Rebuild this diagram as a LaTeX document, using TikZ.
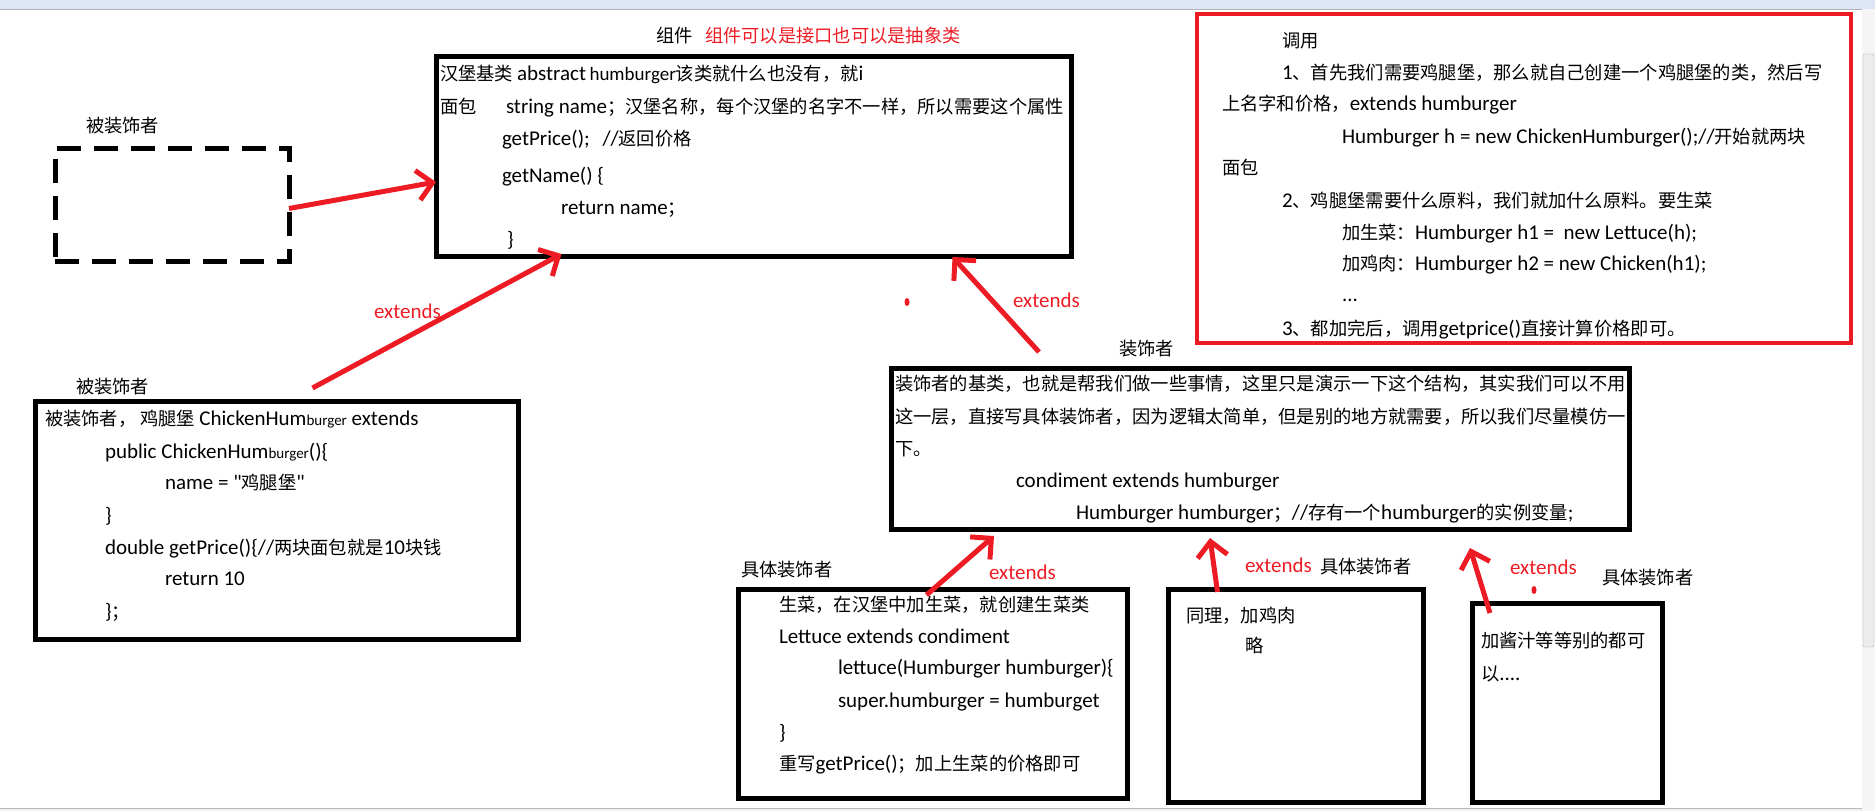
\documentclass[tikz,border=0pt]{standalone}
\usepackage{fontspec}
\setmainfont{Carlito}
\newfontfamily\latinfont{Carlito}
\newfontfamily\cjkfont{Noto Sans CJK SC}[Scale=0.87]
\usetikzlibrary{arrows.meta}
\usepackage{xcolor}

\definecolor{paintred}{RGB}{237,28,36}
\definecolor{toolbar}{RGB}{220,230,244}

% Chinese characters switch to the CJK font
\newcount\cjkchar
\cjkchar="4E00
\loop \XeTeXcharclass\cjkchar=1 \advance\cjkchar by 1 \ifnum\cjkchar<"A000 \repeat
\cjkchar="3000
\loop \XeTeXcharclass\cjkchar=1 \advance\cjkchar by 1 \ifnum\cjkchar<"3040 \repeat
\cjkchar="FF00
\loop \XeTeXcharclass\cjkchar=1 \advance\cjkchar by 1 \ifnum\cjkchar<"FFF0 \repeat
\XeTeXinterchartoks 0 1 = {\cjkfont}
\XeTeXinterchartoks 1 0 = {\latinfont}
\XeTeXinterchartoks 4095 1 = {\cjkfont}
\XeTeXinterchartoks 4095 0 = {\latinfont}
\XeTeXinterchartokenstate=1

\begin{document}
\begin{tikzpicture}[x=1pt, y=-1pt,
  every node/.style={font=\fontsize{21}{32}\selectfont, inner sep=0pt, outer sep=0pt},
  txt/.style={anchor=base west},
  redtxt/.style={anchor=base west, text=paintred},
  box/.style={draw, line width=5pt, anchor=north west},
  ext/.style={paintred, line width=5pt, -{Straight Barb[length=15pt,width=30pt]}}
]
\useasboundingbox (0,0) rectangle (1875,811);

% window frame
{
\fill[toolbar] (0,0) rectangle (1875,9);
\draw[gray!60, line width=1pt] (0,9) -- (1875,9);
\fill[gray!8] (1862,9) rectangle (1875,811);
\draw[gray!60, fill=gray!15, rounded corners=2pt] (1863,54) rectangle (1874,647);
\fill[gray!12] (0,808) rectangle (1862,811);
\draw[gray!55, line width=1pt] (0,808) -- (1862,808);
}

% boxes
\node[box, minimum width=635pt, minimum height=200pt] (comp) at (436,56) {};
\node[box, dash pattern=on 24pt off 13pt, minimum width=234pt, minimum height=113pt] (target) at (55,148) {};
\node[box, minimum width=483pt, minimum height=238pt] (chicken) at (35,401) {};
\node[box, minimum width=738pt, minimum height=161pt] (condiment) at (891,368) {};
\node[box, minimum width=389pt, minimum height=209pt] (lettuce) at (738,589) {};
\node[box, minimum width=255pt, minimum height=213pt] (chickenmeat) at (1168,589) {};
\node[box, minimum width=190pt, minimum height=199pt] (sauce) at (1472,603) {};
\node[box, draw=paintred, line width=4.5pt, minimum width=654pt, minimum height=329pt] (usage) at (1197,14) {};

% component
{
\node[txt] (comptitle) at (656,42) {组件};
\node[redtxt] (compnote) at (705,42) {组件可以是接口也可以是抽象类};
\node[txt] (c1) at (440,80) {汉堡基类 abstract\,{\fontsize{19}{19}\selectfont humburger}该类就什么也没有，就i};
\node[txt] (c2a) at (440,113) {面包};
\node[txt] (c2b) at (506,113) {string name；汉堡名称，每个汉堡的名字不一样，所以需要这个属性};
\node[txt] (c3) at (502,145) {getPrice(); \hspace{8pt}//返回价格};
\node[txt] (c4) at (502,182) {getName() \{};
\node[txt] (c5) at (561,214) {return name；};
\node[txt] (c6) at (507,246) {\}};
}

% decorated
{
\node[txt] (targettitle) at (86,132) {被装饰者};
\node[txt] (chickentitle) at (76,393) {被装饰者};
\node[txt] (k1) at (45,425) {被装饰者， 鸡腿堡 ChickenHum{\fontsize{15}{15}\selectfont burger} extends};
\node[txt] (k2) at (105,458) {public ChickenHum{\fontsize{15}{15}\selectfont burger}()\{};
\node[txt] (k3) at (165,489) {name = "鸡腿堡"};
\node[txt] (k4) at (105,522) {\}};
\node[txt] (k5) at (105,554) {double getPrice()\{//两块面包就是10块钱};
\node[txt] (k6) at (165,585) {return 10};
\node[txt] (k7) at (105,618) {\}；};
}

% decorator
{
\node[txt] (condimenttitle) at (1119,355) {装饰者};
\node[txt] (d1) at (895,390) {装饰者的基类，也就是帮我们做一些事情，这里只是演示一下这个结构，其实我们可以不用};
\node[txt] (d2) at (895,423) {这一层，直接写具体装饰者，因为逻辑太简单，但是别的地方就需要，所以我们尽量模仿一};
\node[txt] (d3) at (895,455) {下。};
\node[txt] (d4) at (1016,487) {condiment extends humburger};
\node[txt] (d5) at (1076,519) {Humburger humburger；//存有一个humburger的实例变量;};
}

% concrete decorators
{
\node[txt] (lettucetitle) at (741,576) {具体装饰者};
\node[txt] (l1) at (779,611) {生菜，在汉堡中加生菜，就创建生菜类};
\node[txt] (l2) at (779,643) {Lettuce extends condiment};
\node[txt] (l3) at (838,674) {lettuce(Humburger humburger)\{};
\node[txt] (l4) at (838,707) {super.humburger = humburget};
\node[txt] (l5) at (779,739) {\}};
\node[txt] (l6) at (779,770) {重写getPrice()；加上生菜的价格即可};

\node[txt] (meattitle) at (1320,573) {具体装饰者};
\node[txt] (s1) at (1186,622) {同理，加鸡肉};
\node[txt] (s2) at (1245,652) {略};

\node[txt] (saucetitle) at (1602,584) {具体装饰者};
\node[txt] (t1) at (1481,647) {加酱汁等等别的都可};
\node[txt] (t2) at (1481,680) {以....};
}

% usage
{
\node[txt] (r1) at (1282,47) {调用};
\node[txt] (r2) at (1282,79) {1、首先我们需要鸡腿堡，那么就自己创建一个鸡腿堡的类，然后写};
\node[txt] (r3) at (1222,110) {上名字和价格，extends humburger};
\node[txt] (r4) at (1342,143) {Humburger h = new ChickenHumburger();//开始就两块};
\node[txt] (r5) at (1222,174) {面包};
\node[txt] (r6) at (1282,207) {2、鸡腿堡需要什么原料，我们就加什么原料。要生菜};
\node[txt] (r7) at (1342,239) {加生菜：Humburger h1 =~ new Lettuce(h);};
\node[txt] (r8) at (1342,270) {加鸡肉：Humburger h2 = new Chicken(h1);};
\node[txt] (r9) at (1342,301) {...};
\node[txt] (r10) at (1282,335) {3、都加完后，调用getprice()直接计算价格即可。};
}

% arrows
{
\draw[ext] ([yshift=-4pt]target.east) -- ([yshift=-26pt]comp.west);
\draw[ext] ([xshift=36pt,yshift=13pt]chicken.north) -- ([xshift=-192pt,yshift=2pt]comp.south);
\draw[ext] ([xshift=-221pt,yshift=16pt]condiment.north) -- ([xshift=199pt,yshift=-1pt]comp.south);
\draw[ext] ([xshift=-6pt,yshift=-6pt]lettuce.north) -- ([xshift=-266pt,yshift=-7pt]condiment.south);
\draw[ext] ([xshift=-78pt,yshift=-3pt]chickenmeat.north) -- ([xshift=-50pt,yshift=-9pt]condiment.south);
\draw[ext] ([xshift=-77pt,yshift=-10pt]sauce.north) -- ([xshift=210pt,yshift=-19pt]condiment.south);

\node[redtxt] (e1) at (374,318) {extends};
\node[redtxt] (e2) at (1013,307) {extends};
\node[redtxt] (e3) at (989,579) {extends};
\node[redtxt] (e4) at (1245,572) {extends};
\node[redtxt] (e5) at (1510,574) {extends};

\fill[paintred] (907,302) ellipse [x radius=2.5, y radius=4];
\fill[paintred] (1534,590) ellipse [x radius=2.5, y radius=4];
}

\end{tikzpicture}
\end{document}
